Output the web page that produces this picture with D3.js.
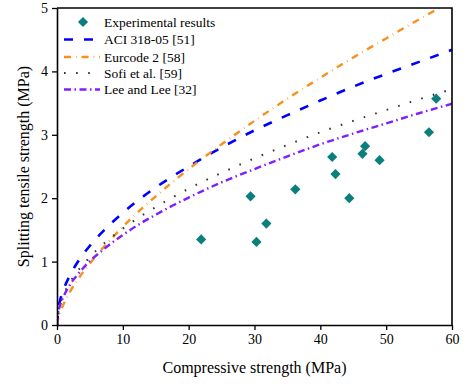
<!DOCTYPE html>
<html><head><meta charset="utf-8">
<script src="https://cdn.jsdelivr.net/npm/d3@7/dist/d3.min.js"></script>
<style>
html,body{margin:0;padding:0;background:#fff;}
svg text{font-family:"Liberation Serif","Times New Roman",Times,Tinos,"DejaVu Serif",serif !important;fill:#000;}
</style>
</head><body>
<svg id="chart" width="474" height="387"></svg>
<script>
// Experimental data
const expFc = [21.9, 29.4, 30.3, 31.8, 36.2, 41.8, 42.3, 44.4, 46.4, 46.8, 49.0, 56.5, 57.6];
const expFt = [1.35, 2.03, 1.31, 1.60, 2.14, 2.65, 2.38, 2.00, 2.70, 2.82, 2.60, 3.04, 3.57];

const curveFc = [0, 0.25, 0.5, 1, 2, 3, 4, 5, 6, 8, 10, 12.5, 15, 17.5, 20, 25, 30, 35, 40, 45, 50, 55, 60];
const aciFt   = [0, 0.28, 0.40, 0.56, 0.79, 0.97, 1.12, 1.25, 1.37, 1.58, 1.77, 1.98, 2.17, 2.34, 2.50, 2.80, 3.07, 3.31, 3.54, 3.76, 3.96, 4.15, 4.34];
const ecFt    = [0, 0.13, 0.21, 0.33, 0.53, 0.69, 0.84, 0.97, 1.10, 1.33, 1.55, 1.80, 2.03, 2.25, 2.46, 2.85, 3.22, 3.57, 3.90, 4.22, 4.52, 4.82, 5.11];
const sofiFt  = [0, 0.24, 0.34, 0.48, 0.68, 0.83, 0.96, 1.07, 1.18, 1.36, 1.52, 1.70, 1.86, 2.01, 2.15, 2.40, 2.63, 2.84, 3.04, 3.22, 3.39, 3.56, 3.72];
const leeFt   = [0, 0.225, 0.32, 0.45, 0.64, 0.78, 0.90, 1.01, 1.10, 1.27, 1.42, 1.59, 1.74, 1.88, 2.01, 2.25, 2.46, 2.66, 2.85, 3.02, 3.18, 3.34, 3.49];

const seriesNames = ["Experimental results", "ACI 318-05 [51]", "Eurcode 2 [58]", "Sofi et al. [59]", "Lee and Lee [32]"];
const xTicks = [0, 10, 20, 30, 40, 50, 60];
const yTicks = [0, 1, 2, 3, 4, 5];
const xTitle = "Compressive strength (MPa)";
const yTitle = "Splitting tensile strength (MPa)";

const FONT = '"Liberation Serif","Times New Roman",Times,Tinos,"DejaVu Serif",serif';
const svg = d3.select("#chart").attr("font-family", FONT);
const L = 57, R = 452, T = 8, B = 325;
const x = d3.scaleLinear().domain([0, 60]).range([L, R]);
const y = d3.scaleLinear().domain([0, 5]).range([B, T]);

svg.append("defs").append("clipPath").attr("id", "clip")
  .append("rect").attr("x", L).attr("y", T).attr("width", R - L).attr("height", B - T);

const styles = [
  null,
  {color: "#0000ff", dash: "9,11", w: 2.6},
  {color: "#f7901e", dash: "7,5,0.6,5", w: 2.4},
  {color: "#333333", dash: "1.6,10.5", w: 2},
  {color: "#7f1fff", dash: "7,3.5,1.5,3.5", w: 2.4}
];
const curves = [null, aciFt, ecFt, sofiFt, leeFt];

const line = d3.line().x(d => x(d[0])).y(d => y(d[1])).curve(d3.curveMonotoneX);
const g = svg.append("g").attr("clip-path", "url(#clip)");
for (let i = 1; i < 5; i++) {
  const pts = curveFc.map((f, j) => [f, curves[i][j]]);
  g.append("path").attr("d", line(pts))
    .attr("fill", "none").attr("stroke", styles[i].color)
    .attr("stroke-width", styles[i].w).attr("stroke-dasharray", styles[i].dash);
}

const diamond = d3.symbol().type(d3.symbolSquare).size(52);
svg.append("g").selectAll("path").data(expFc).join("path")
  .attr("d", diamond())
  .attr("transform", (d, i) => `translate(${x(d)},${y(expFt[i])}) rotate(45)`)
  .attr("fill", "#0b7f7b");

// Axes
const fmt = d3.format("d");
const xAxis = svg.append("g").attr("transform", `translate(0,${B})`)
  .call(d3.axisBottom(x).tickValues(xTicks).tickFormat(fmt).tickSize(5).tickSizeOuter(0).tickPadding(4));
const yAxis = svg.append("g").attr("transform", `translate(${L},0)`)
  .call(d3.axisLeft(y).tickValues(yTicks).tickFormat(fmt).tickSize(5).tickSizeOuter(0).tickPadding(4));
[xAxis, yAxis].forEach(a => {
  a.attr("font-family", FONT).attr("font-size", 14);
  a.selectAll("text").attr("fill", "#000");
  a.selectAll("line").attr("stroke", "#000").attr("stroke-width", 1.3);
  a.select(".domain").attr("stroke", "#000").attr("stroke-width", 1.6);
});
// Frame top/right
svg.append("path").attr("d", `M${L},${T}H${R}V${B}`).attr("fill", "none").attr("stroke", "#000").attr("stroke-width", 1.6);

// Titles
svg.append("text").attr("x", (L + R) / 2).attr("y", 373).attr("text-anchor", "middle")
  .attr("font-size", 16).text(xTitle);
svg.append("text").attr("transform", `translate(29,${(T + B) / 2}) rotate(-90)`).attr("text-anchor", "middle")
  .attr("font-size", 16).text(yTitle);

// Legend
const legY = [22, 39.5, 57, 73, 89.5];
const lg = svg.append("g");
seriesNames.forEach((name, i) => {
  if (i === 0) {
    lg.append("path").attr("d", diamond()).attr("transform", `translate(83,${legY[i]}) rotate(45)`).attr("fill", "#0b7f7b");
  } else {
    lg.append("line").attr("x1", 64).attr("x2", 100).attr("y1", legY[i]).attr("y2", legY[i])
      .attr("stroke", styles[i].color).attr("stroke-width", styles[i].w).attr("stroke-dasharray", styles[i].dash);
  }
  lg.append("text").attr("x", 104).attr("y", legY[i] + 4.5).attr("font-size", 13.5).text(name);
});
</script>
</body></html>
